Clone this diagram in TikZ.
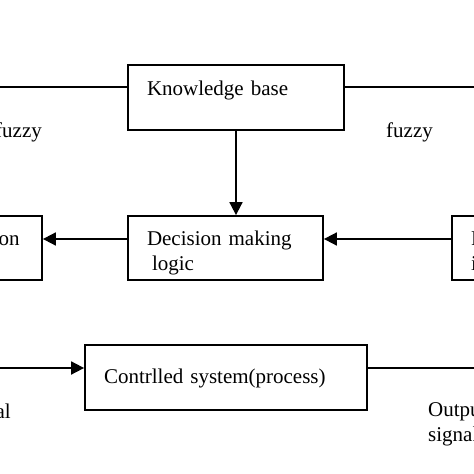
\documentclass[tikz,border=0pt]{standalone}
\usepackage{fontspec}
\setmainfont{Liberation Serif}
\usetikzlibrary{positioning}
\usetikzlibrary{arrows.meta}

\begin{document}
\begin{tikzpicture}[x=1pt, y=-1pt,
							every node/.style={font=\fontsize{21}{25}\selectfont},
							blocknode/.style={rectangle, draw=black, line width=1.8pt, align=left, inner xsep=19pt, inner ysep=0pt},
							twoline/.style={text height=29pt, text depth=35pt},
							textnode/.style={inner sep=0pt, align=left},
							link/.style={line width=1.8pt},
							arrowlink/.style={line width=1.8pt, -{Triangle[length=13pt,width=13pt]}},
							]
							\useasboundingbox (0,0) rectangle (474,474);
							\clip (0,0) rectangle (474,474);
							%Nodes
							\node[blocknode, text width=178pt, text height=30pt, text depth=35pt] (kb) at (236,97.5) {Knowledge base};
							\node[blocknode, twoline, text width=157pt] (dm)     at (225.5,248)  {Decision making\\\hspace{5pt}logic};
							\node[blocknode, twoline, text width=134pt] (defuzz) at (-44,248)    {Defuzzification\\interface};
							\node[blocknode, twoline, text width=134pt] (fuzz)   at (538,248)    {Fuzzification\\interface};
							\node[blocknode, text width=244pt, text height=38pt, text depth=27pt] (proc) at (226,377.5) {Contrlled system(process)};
							\node[textnode, anchor=west]    (fuzzyL) at (-5,132)     {fuzzy};
							\node[textnode, anchor=west]    (fuzzyR) at (386,132)    {fuzzy};
							\node[textnode, anchor=east]    (insig)  at (11,413)     {Input signal};
							\node[textnode, anchor=west]    (outsig) at (428,424.5)  {Output\\signal};
							\coordinate (kbL)     at (-20,87);
							\coordinate (kbR)     at (494,87);
							\coordinate (procIn)  at (-20,368);
							\coordinate (procOut) at (494,368);
							
							%Connectors
							\draw[link] (kbL) -- (kb.west |- kbL);
							\draw[link] (kb.east |- kbR) -- (kbR);
							\draw[arrowlink] (kb.south) -- (kb.south |- dm.north);
							\draw[arrowlink] ([yshift=9pt]dm.west) -- ([yshift=9pt]dm.west -| defuzz.east);
							\draw[arrowlink] ([yshift=9pt]fuzz.west) -- ([yshift=9pt]fuzz.west -| dm.east);
							\draw[arrowlink] (procIn) -- (procIn -| proc.west);
							\draw[link] (proc.east |- procOut) -- (procOut);
\end{tikzpicture}
\end{document}
